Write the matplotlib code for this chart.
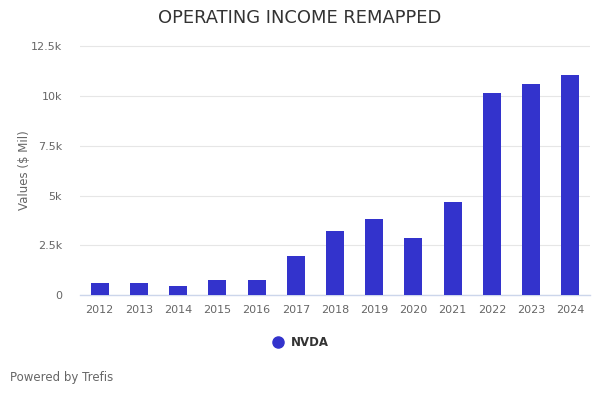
import matplotlib.pyplot as plt
import numpy as np
from matplotlib.ticker import FuncFormatter

years = ['2012', '2013', '2014', '2015', '2016', '2017', '2018',
         '2019', '2020', '2021', '2022', '2023', '2024']
nvda = [606, 600, 455, 758, 750, 1970, 3215, 3820, 2865, 4675, 10165, 10620, 11070]
yticks = [0, 2500, 5000, 7500, 10000, 12500]

bar_color = '#3333cc'


def fmt_k(v, pos):
    if v == 0:
        return '0'
    s = '%g' % (v / 1000)
    return s + 'k'


fig = plt.figure(figsize=(6, 4), dpi=100)
# y-range a bit above 12.5k so the top gridline shows
ax = fig.add_axes([80 / 600, 105 / 400, 510 / 600, 250.5 / 400])

x = np.arange(len(years))
ax.bar(x, nvda, width=0.46, color=bar_color, zorder=3)

ax.set_xlim(-0.5, len(years) - 0.5)
ax.set_ylim(0, 12600)
ax.set_yticks(yticks)
ax.yaxis.set_major_formatter(FuncFormatter(fmt_k))
ax.set_xticks(x)
ax.set_xticklabels(years)
ax.grid(axis='y', color='#e6e6e6', linewidth=0.8, zorder=0)
ax.tick_params(axis='both', length=0, labelsize=8, labelcolor='#666666')
ax.tick_params(axis='x', pad=7)
ax.tick_params(axis='y', pad=13)
for s in ['top', 'right', 'left']:
    ax.spines[s].set_visible(False)
ax.spines['bottom'].set_color('#ccd6eb')
ax.spines['bottom'].set_linewidth(1)

ax.set_ylabel('Values ($ Mil)', color='#666666', fontsize=8.5, labelpad=0)

fig.text(0.5, 1 - 18 / 400, 'OPERATING INCOME REMAPPED', ha='center', va='center',
         fontsize=12.9, color='#333333')

# legend
fig.lines.append(plt.Line2D([278 / 600], [1 - 342 / 400], marker='o', markersize=8,
                            color=bar_color, transform=fig.transFigure, linestyle='none'))
fig.text(291 / 600, 1 - 343 / 400, 'NVDA', ha='left', va='center', fontsize=8.5,
         fontweight='bold', color='#333333')

fig.text(10 / 600, 1 - 378 / 400, 'Powered by Trefis', ha='left', va='center',
         fontsize=8.5, color='#666666')

fig.savefig('out.png', dpi=100)
